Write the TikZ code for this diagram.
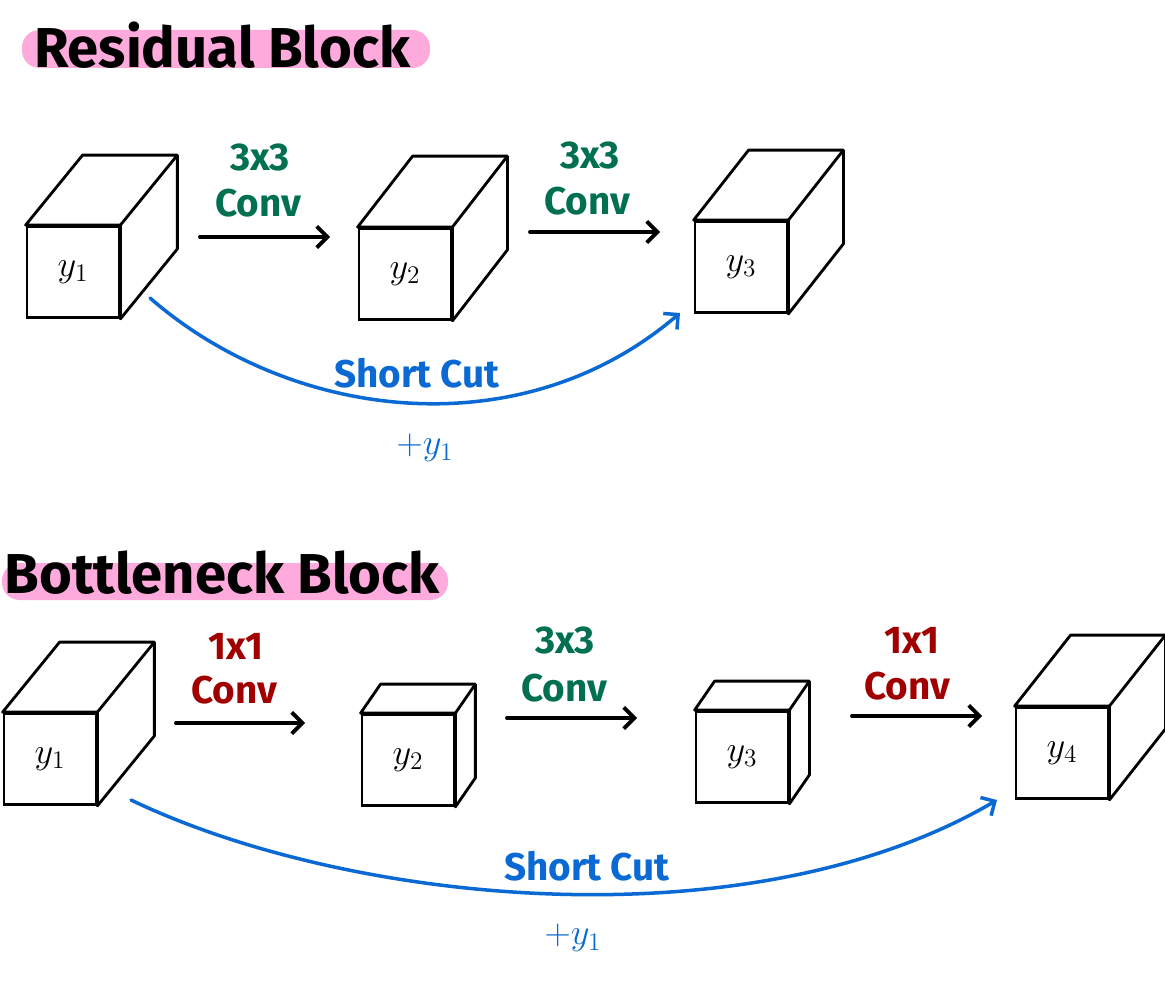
\documentclass[tikz,border=0pt]{standalone}
\usepackage{fontspec}
\setmainfont{Fira Sans}
\usetikzlibrary{arrows.meta}
\definecolor{cgreen}{RGB}{0,112,80}
\definecolor{cred}{RGB}{160,0,0}
\definecolor{cblue}{RGB}{10,105,210}
\definecolor{cpink}{RGB}{255,170,220}
\tikzset{
 face/.style={draw,line width=1.6pt,fill=white,minimum width=1.84cm,minimum height=1.82cm,inner sep=0pt,font=\huge},
 conv/.style={-{Straight Barb[length=6pt,width=12pt]},line width=2.2pt,line cap=round},
 short/.style={-{Straight Barb[length=6pt,width=12pt]},line width=2pt,cblue,line cap=round},
 lab/.style={font=\fontsize{22}{24}\selectfont\bfseries},
 title/.style={font=\fontsize{32}{34}\selectfont\bfseries},
}
\newcommand{\mycube}[3]{%
 \draw[line width=1.6pt,line join=round,fill=white] (#1.north west)--++(#2,#3)--([shift={(#2,#3)}]#1.north east)--([shift={(#2,#3)}]#1.south east)--(#1.south east)--(#1.north east)--cycle;
 \draw[line width=1.6pt] (#1.north east)--++(#2,#3);}
\begin{document}
\begin{tikzpicture}[x=0.02cm,y=-0.02cm]
\useasboundingbox (0,0) rectangle (1165,999);
\fill[cpink,rounded corners=10pt] (22,30) rectangle (430,68);
\node[title] (t1) at (222,45) {Residual Block};
\fill[cpink,rounded corners=10pt] (2,563) rectangle (448,600);
\node[title] (t2) at (222,573) {Bottleneck Block};
\node[face] (a1) at (73,272) {$y_1$}; \mycube{a1}{57}{-70}
\node[face] (a2) at (405,274) {$y_2$}; \mycube{a2}{55}{-71}
\node[face] (a3) at (741,267) {$y_3$}; \mycube{a3}{55}{-70}
\coordinate (r1s) at (200,237); \coordinate (r1e) at (330,237);
\coordinate (r2s) at (530,232); \coordinate (r2e) at (660,232);
\draw[conv] (r1s)--(r1e); \draw[conv] (r2s)--(r2e);
\node[lab,cgreen] (l1) at (260,157) {3x3}; \node[lab,cgreen] (l2) at (258,203) {Conv};
\node[lab,cgreen] (l3) at (590,155) {3x3}; \node[lab,cgreen] (l4) at (587,201) {Conv};
\coordinate (rs) at (150,298); \coordinate (re) at (680,313);
\draw[short] (rs) .. controls (290,420) and (520,450) .. (re);
\node[lab,cblue] (sc1) at (417,373) {Short Cut};
\node[cblue,font=\huge] (p1) at (425,448) {$+y_1$};
\node[face] (b1) at (50,759) {$y_1$}; \mycube{b1}{57}{-70}
\node[face] (b2) at (408,760) {$y_2$}; \mycube{b2}{20}{-29}
\node[face] (b3) at (742,757) {$y_3$}; \mycube{b3}{20}{-29}
\node[face] (b4) at (1062,753) {$y_4$}; \mycube{b4}{56}{-71}
\coordinate (c1s) at (176,723); \coordinate (c1e) at (305,723);
\coordinate (c2s) at (507,718); \coordinate (c2e) at (637,718);
\coordinate (c3s) at (852,716); \coordinate (c3e) at (982,716);
\draw[conv] (c1s)--(c1e); \draw[conv] (c2s)--(c2e); \draw[conv] (c3s)--(c3e);
\node[lab,cred] (m1) at (236,646) {1x1}; \node[lab,cred] (m2) at (234,690) {Conv};
\node[lab,cgreen] (m3) at (565,640) {3x3}; \node[lab,cgreen] (m4) at (564,688) {Conv};
\node[lab,cred] (m5) at (912,640) {1x1}; \node[lab,cred] (m6) at (907,686) {Conv};
\coordinate (bs) at (131,800); \coordinate (be) at (997,800);
\draw[short] (bs) .. controls (350,905) and (750,945) .. (be);
\node[lab,cblue] (sc2) at (587,866) {Short Cut};
\node[cblue,font=\huge] (p2) at (573,938) {$+y_1$};
\end{tikzpicture}
\end{document}
